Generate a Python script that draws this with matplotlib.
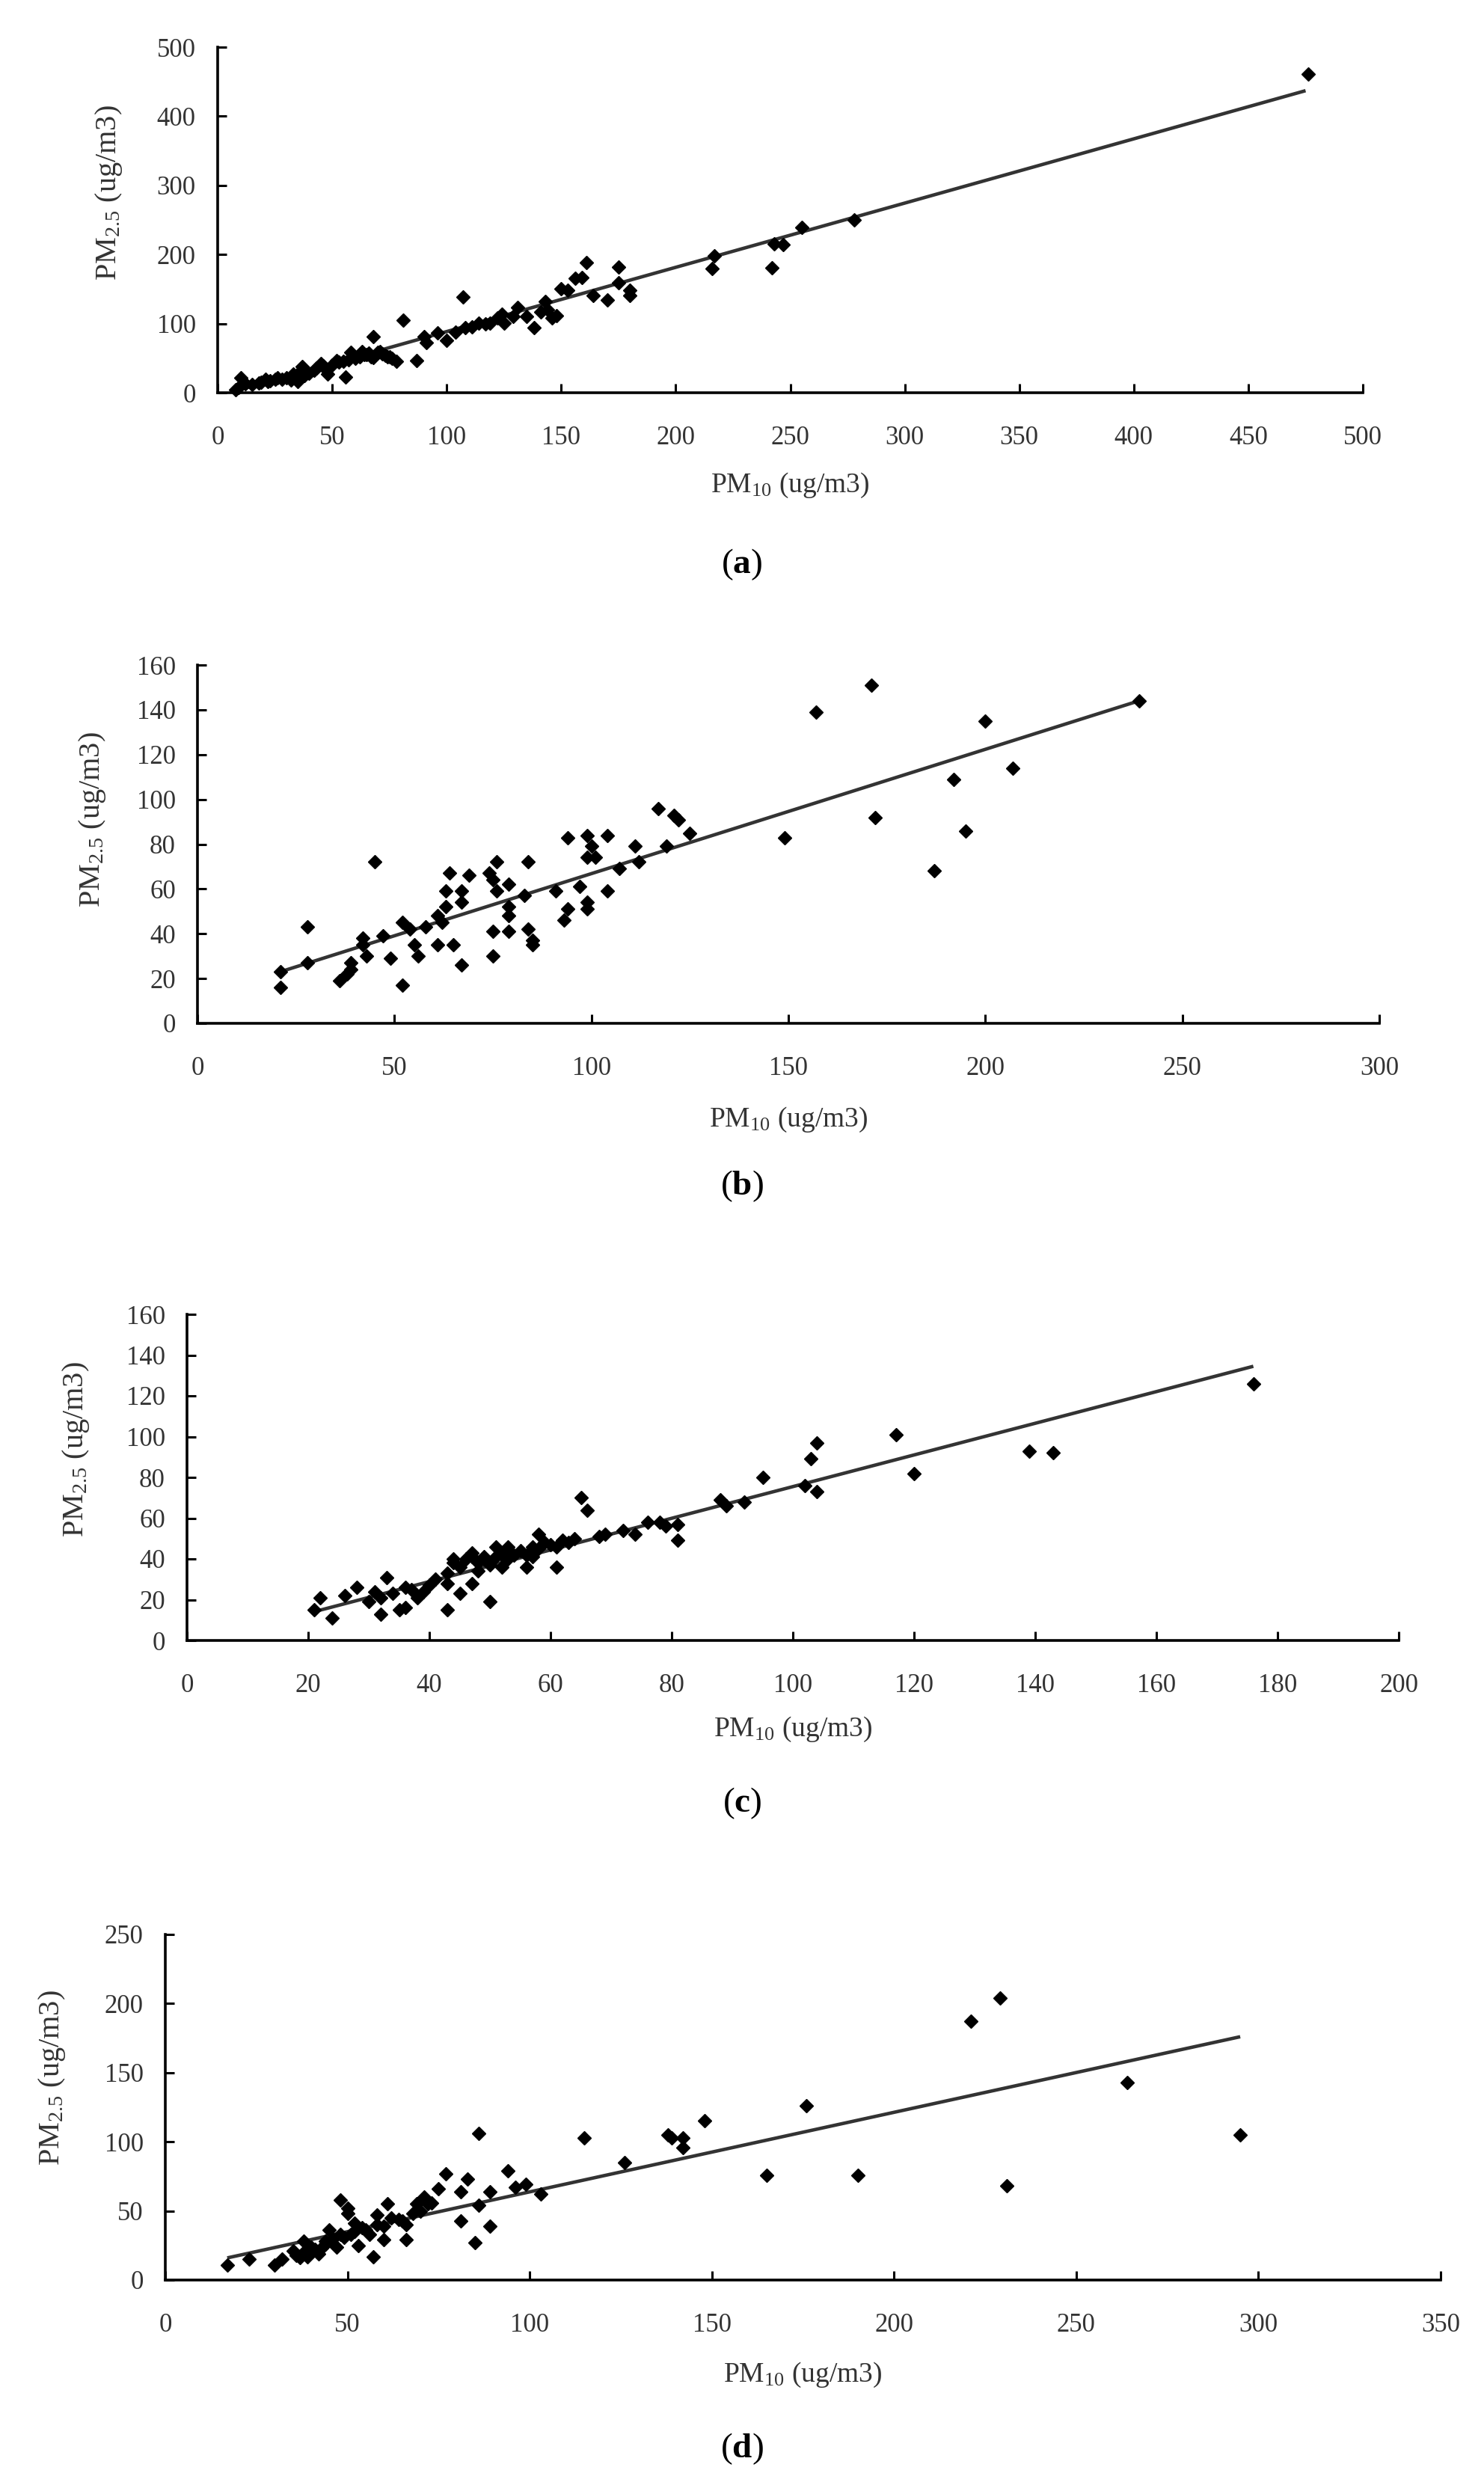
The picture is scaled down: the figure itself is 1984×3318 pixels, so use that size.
import matplotlib
matplotlib.use("Agg")
import matplotlib.pyplot as plt

plt.rcParams['font.family'] = ['Liberation Serif', 'DejaVu Serif']
plt.rcParams['mathtext.fontset'] = 'custom'
plt.rcParams['mathtext.rm'] = 'Liberation Serif'
plt.rcParams['mathtext.it'] = 'Liberation Serif:italic'
plt.rcParams['mathtext.bf'] = 'Liberation Serif:bold'

# ---------------- data ----------------
# panel (a)
a_x = [8, 10, 12, 9, 15, 18, 19, 21, 22, 23, 25, 26, 28, 30, 32, 33, 35, 36, 37, 38, 40, 42, 43,
       45, 46, 47, 48, 50, 52, 53, 55, 56, 57, 58, 60, 62, 63, 64, 65, 66, 67, 68, 68, 70, 71, 72,
       73, 74, 75, 76, 78, 81, 87, 90, 91, 96, 100, 104, 107, 108, 111, 114, 117, 119, 122, 124,
       125, 129, 131, 135, 138, 141, 143, 144, 146, 148, 150, 153, 156, 159, 161, 164, 170, 175,
       175, 180, 180, 216, 217, 242, 243, 247, 255, 278, 476]
a_y = [4, 22, 13, 8, 12, 14, 15, 19, 16, 17, 20, 22, 20, 22, 18, 27, 16, 30, 38, 25, 28, 32, 36,
       42, 39, 35, 27, 40, 47, 44, 45, 23, 48, 58, 50, 52, 60, 55, 55, 57, 52, 81, 51, 58, 60, 56,
       54, 52, 52, 50, 45, 105, 46, 81, 72, 87, 76, 88, 139, 94, 95, 101, 100, 101, 108, 114,
       101, 110, 123, 110, 94, 117, 132, 120, 108, 112, 150, 148, 166, 167, 188, 141, 134, 182,
       159, 148, 141, 180, 198, 181, 215, 214, 239, 250, 461]
a_fit_x = [8, 475]
a_fit_y = [3, 437]

# panel (b)
b_x = [239, 171, 157, 200, 207, 192, 172, 195, 149, 187, 117, 121, 122, 125, 119, 111, 112, 107,
       104, 99, 100, 99, 101, 94, 97, 104, 99, 99, 94, 93, 91, 84, 83, 84, 85, 85, 76, 74, 75, 76,
       79, 79, 79, 79, 75, 75, 69, 64, 67, 67, 67, 65, 63, 63, 61, 62, 61, 58, 56, 55, 54, 52, 52,
       47, 49, 45, 43, 42, 42, 39, 38, 36, 39, 28, 28, 21, 21]
b_y = [144, 151, 139, 135, 114, 109, 92, 86, 83, 68, 96, 93, 91, 85, 79, 79, 72, 69,
       84, 84, 79, 74, 74, 83, 61, 59, 54, 51, 51, 46, 59, 72, 57, 42, 37, 35, 72, 67, 64, 59,
       62, 52, 48, 41, 41, 30, 66, 67, 54, 59, 26, 35, 59, 52, 48, 45, 35, 43, 30, 35, 42, 45, 17,
       39, 29, 72, 30, 38, 35, 24, 22, 19, 27, 43, 27, 23, 16]
b_fit_x = [21, 239]
b_fit_y = [23, 144]

# panel (c)
c_x = [176, 143, 139, 117, 120, 104, 103, 102, 104, 95, 89, 88, 92, 81, 81, 79, 78, 76, 74, 72,
       69, 68, 65, 66, 64, 62, 61, 61, 58, 59, 57, 57, 56, 54, 53, 51, 51, 52, 50, 49, 47, 48, 47,
       45, 45, 44, 43, 43, 43, 40, 39, 38, 36, 36, 35, 34, 33, 32, 32, 31, 30, 28, 26, 24, 22, 21,
       44, 46, 47, 48, 49, 50, 52, 53, 55, 56, 58, 60, 63, 41, 37]
c_y = [126, 92, 93, 101, 82, 97, 89, 76, 73, 80, 66, 69, 68, 57, 49, 56, 58, 58, 52, 54,
       52, 51, 70, 64, 50, 49, 46, 36, 52, 48, 46, 41, 36, 42, 46, 46, 41, 36, 19, 41, 43, 34, 28,
       36, 23, 40, 33, 28, 15, 27, 24, 21, 16, 26, 15, 23, 31, 21, 13, 24, 19, 26, 22, 11, 21, 15,
       38, 40, 41, 38, 40, 37, 42, 40, 44, 42, 45, 47, 48, 30, 25]
c_fit_x = [21.5, 176]
c_fit_y = [14.5, 134.5]

# panel (d)
d_x = [229, 221, 264, 295, 231, 190, 176, 165, 148, 142, 142, 139, 138, 126, 115, 103, 99, 96,
       94, 89, 89, 86, 86, 85, 83, 81, 81, 77, 75, 73, 71, 69, 68, 66, 66, 64, 61, 60, 60, 58, 57,
       55, 53, 52, 51, 50, 50, 48, 48, 47, 45, 44, 43, 40, 39, 38, 37, 35, 32, 30, 23, 17,
       36, 38, 41, 42, 44, 46, 49, 52, 54, 56, 58, 62, 65, 70, 72]
d_y = [204, 187, 143, 105, 68, 76, 126, 76, 115, 103, 96, 103, 105, 85, 103, 62, 69, 67,
       79, 64, 39, 106, 54, 27, 73, 64, 43, 77, 66, 56, 60, 55, 48, 40, 29, 44, 55, 39, 29, 47, 17,
       36, 25, 41, 33, 52, 48, 58, 33, 24, 36, 28, 23, 24, 17, 28, 16, 21, 15, 11, 15, 11,
       18, 20, 22, 19, 26, 30, 31, 35, 38, 33, 40, 45, 43, 50, 55]
d_fit_x = [17, 295]
d_fit_y = [16, 176]

# ---------------- layout ----------------
W, H = 1984, 3318
fig = plt.figure(figsize=(W / 100, H / 100), dpi=100)

TXT = '#333333'

panels = [
    (a_x, a_y, a_fit_x, a_fit_y, (291, 1822, 63, 525), 500, range(0, 501, 50), 500, range(0, 501, 100),
     (146, 258), 649, ('a', 755)),
    (b_x, b_y, b_fit_x, b_fit_y, (264, 1844, 889, 1368), 300, range(0, 301, 50), 160, range(0, 161, 20),
     (123, 1096), 1497, ('b', 1586)),
    (c_x, c_y, c_fit_x, c_fit_y, (250, 1870, 1757, 2193), 200, range(0, 201, 20), 160, range(0, 161, 20),
     (101, 1938), 2312, ('c', 2411)),
    (d_x, d_y, d_fit_x, d_fit_y, (221, 1926, 2586, 3048), 350, range(0, 351, 50), 250, range(0, 251, 50),
     (70, 2778), 3175, ('d', 3274)),
]

for (px, py, fx, fy, (l, r, t, b), xmax, xt, ymax, yt, ylab, xlab_y, (cap, cap_y)) in panels:
    ax = fig.add_axes([l / W, 1 - b / H, (r - l) / W, (b - t) / H])
    ax.plot(fx, fy, color='#333333', lw=3.3, solid_capstyle='butt', zorder=2)
    ax.plot(px, py, 'D', ms=9.6, color='black', ls='none', clip_on=False, zorder=3)
    ax.set_xlim(0, xmax)
    ax.set_ylim(0, ymax)
    ax.set_xticks(list(xt))
    ax.set_yticks(list(yt))
    for s in ('top', 'right'):
        ax.spines[s].set_visible(False)
    for s in ('left', 'bottom'):
        ax.spines[s].set_linewidth(2.6)
        ax.spines[s].set_color('black')
    ax.tick_params(axis='x', direction='in', length=8.6, width=2.2, pad=32,
                   labelsize=25, labelcolor=TXT)
    ax.tick_params(axis='y', direction='in', length=8.6, width=2.2, pad=21,
                   labelsize=25, labelcolor=TXT)
    ax.patch.set_alpha(0)

    cx = (l + r) / 2
    fig.text(cx / W, 1 - xlab_y / H, r'PM$_{\mathrm{10}}$ (ug/m3)', ha='center', va='center',
             fontsize=27, color=TXT)
    fig.text(ylab[0] / W, 1 - ylab[1] / H, r'PM$_{\mathrm{2.5}}$ (ug/m3)', ha='center', va='center',
             rotation=90, fontsize=29, color=TXT)
    fig.text(992 / W, 1 - cap_y / H, r'($\mathbf{%s}$)' % cap, ha='center', va='center',
             fontsize=34, color='black')

fig.savefig('out.png', dpi=100, facecolor='white')
